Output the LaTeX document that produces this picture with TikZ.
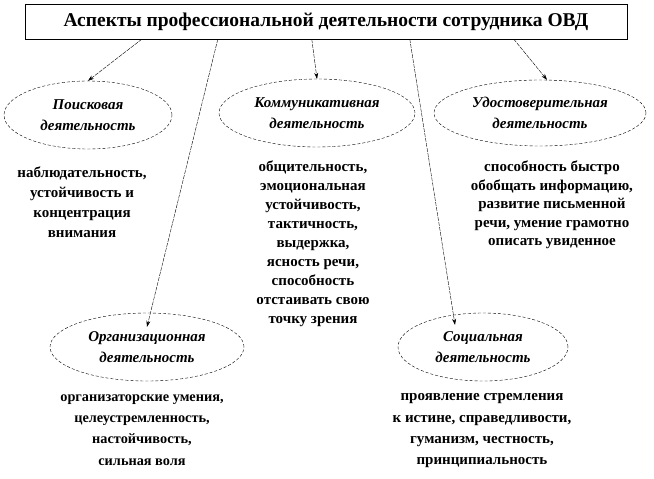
\documentclass[tikz,border=0pt]{standalone}
\usepackage{fontspec}
\setmainfont{Liberation Serif}
\usetikzlibrary{shapes.geometric,arrows.meta,positioning}

\begin{document}
\begin{tikzpicture}[x=1pt,y=-1pt,
          titlebox/.style={draw,thin,minimum width=602pt,minimum height=35pt,
            inner sep=0pt,font=\bfseries\fontsize{19.5}{21}\selectfont},
          actnode/.style={ellipse,draw,thin,dash pattern=on 3pt off 2pt,inner sep=0pt,
            align=center,font=\bfseries\itshape\fontsize{15}{20.5}\selectfont},
          qualtext/.style={align=center,inner sep=0pt,font=\bfseries\fontsize{15}{19}\selectfont},
          link/.style={thin,dash pattern=on 4pt off 1pt,-{Stealth[length=6pt,width=4pt]}}
        ]
        \useasboundingbox (0,0) rectangle (654,479);
        \node[titlebox] (title) at (326,21.5) {Аспекты профессиональной деятельности сотрудника ОВД};

        \node[actnode,minimum width=168pt,minimum height=68pt] (poisk) at (88,115) {Поисковая\\деятельность};
        \node[actnode,minimum width=196pt,minimum height=68pt] (komm) at (317,113) {Коммуникативная\\деятельность};
        \node[actnode,minimum width=212pt,minimum height=66pt] (udost) at (540,113) {Удостоверительная\\деятельность};
        \node[actnode,minimum width=194pt,minimum height=68pt] (org) at (147,347) {Организационная\\деятельность};
        \node[actnode,minimum width=170pt,minimum height=68pt] (soc) at (483,347) {Социальная\\деятельность};

        \node[qualtext,font=\bfseries\fontsize{15}{20}\selectfont] (poiskq) at (82,202) {наблюдательность,\\устойчивость и\\концентрация\\внимания};
        \node[qualtext] (kommq) at (313,244) {общительность,\\эмоциональная\\устойчивость,\\тактичность,\\выдержка,\\ясность речи,\\способность\\отстаивать свою\\точку зрения};
        \node[qualtext,font=\bfseries\fontsize{15}{18.5}\selectfont] (udostq) at (552,205) {способность быстро\\обобщать информацию,\\развитие письменной\\речи, умение грамотно\\описать увиденное};
        \node[qualtext,font=\bfseries\fontsize{14.3}{21.3}\selectfont] (orgq) at (142,430) {организаторские умения,\\целеустремленность,\\настойчивость,\\сильная воля};
        \node[qualtext,font=\bfseries\fontsize{15}{21.3}\selectfont] (socq) at (482,431) {проявление стремления\\к истине, справедливости,\\гуманизм, честность,\\принципиальность};

        % связи от заголовка
        \draw[link] ([xshift=117pt]title.south west) -- (poisk.north);
        \draw[link] ([xshift=287pt]title.south west) -- (komm.north);
        \draw[link] ([xshift=489pt]title.south west) -- ([xshift=7pt]udost.north);
        \draw[link] ([xshift=193pt]title.south west) -- ([yshift=-14pt]org.north);
        \draw[link] ([xshift=385pt]title.south west) -- ([xshift=-28pt,yshift=-12pt]soc.north);
        \end{tikzpicture}
\end{document}
